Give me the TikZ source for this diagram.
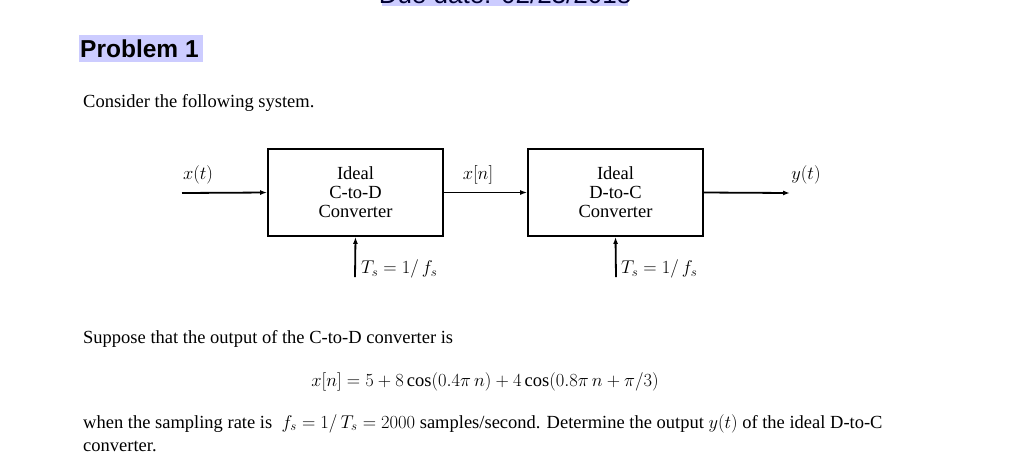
\RequirePackage{fix-cm}
\documentclass[tikz,border=0pt]{standalone}
\usepackage{fontspec}
\setmainfont{Liberation Serif}
\newfontfamily\hsans{Liberation Sans}
\usetikzlibrary{arrows.meta}
\definecolor{hl}{RGB}{204,204,255}
\begin{document}
\begin{tikzpicture}[x=1pt,y=-1pt,
  blk/.style={draw,line width=1.8pt,minimum width=175pt,minimum height=87pt,inner sep=0pt,align=center,font=\fontsize{18.5}{19}\selectfont},
  sig/.style={line width=1.8pt,-{Latex[length=7pt,width=5pt]}},
  lab/.style={font=\fontsize{18.5}{18.5}\selectfont,inner sep=0pt},
  txt/.style={font=\fontsize{18.5}{18.5}\selectfont,inner sep=0pt,anchor=base west}]
\useasboundingbox (0,0) rectangle (1024,475);
\clip (0,0) rectangle (1024,475);
\fill[white] (0,0) rectangle (1024,475);
\fill[hl] (382,-20) rectangle (628,6);
\node[anchor=base,inner sep=0pt,font=\hsans\fontsize{26}{26}\selectfont,text=black!80!blue] (due) at (505,3) {Due date: 02/23/2018};
\fill[hl] (79,35) rectangle (203,62);
\node[anchor=base west,inner sep=0pt,font=\hsans\bfseries\fontsize{24.5}{24.5}\selectfont] (prob) at (80,57) {Problem 1};
\node[txt] (t1) at (83,107) {Consider the following system.};
\node[blk] (cd) at (355.5,192.5) {Ideal\\C-to-D\\Converter};
\node[blk] (dc) at (615.5,192.5) {Ideal\\D-to-C\\Converter};
\coordinate (in) at (182,193);
\coordinate (out) at (790,193);
\coordinate (s1) at (355,277);
\coordinate (s2) at (616,277);
\draw[sig] (in) -- (cd.west);
\draw[sig] (cd.east) -- (dc.west);
\draw[sig] (dc.east) -- (out);
\draw[sig] (s1) -- (cd.south);
\draw[sig] (s2) -- (dc.south);
\node[lab] (xt) at (198,175) {$x(t)$};
\node[lab] (xn) at (478,175) {$x[n]$};
\node[lab] (yt) at (806,175) {$y(t)$};
\node[lab,anchor=west] (ts1) at (361,269) {$T_s=1/\,f_s$};
\node[lab,anchor=west] (ts2) at (621,269) {$T_s=1/\,f_s$};
\node[txt] (t2) at (83,343) {Suppose that the output of the C-to-D converter is};
\node[anchor=base,inner sep=0pt,font=\fontsize{18.5}{18.5}\selectfont] (eq) at (485,386) {$x[n]=5+8\cos(0.4\pi\, n)+4\cos(0.8\pi\, n+\pi/3)$};
\node[txt] (t3) at (83,428) {when the sampling rate is \ $f_s=1/\,T_s=2000$ samples/second. Determine the output $y(t)$ of the ideal D-to-C};
\node[txt] (t4) at (83,451) {converter.};
\end{tikzpicture}
\end{document}
